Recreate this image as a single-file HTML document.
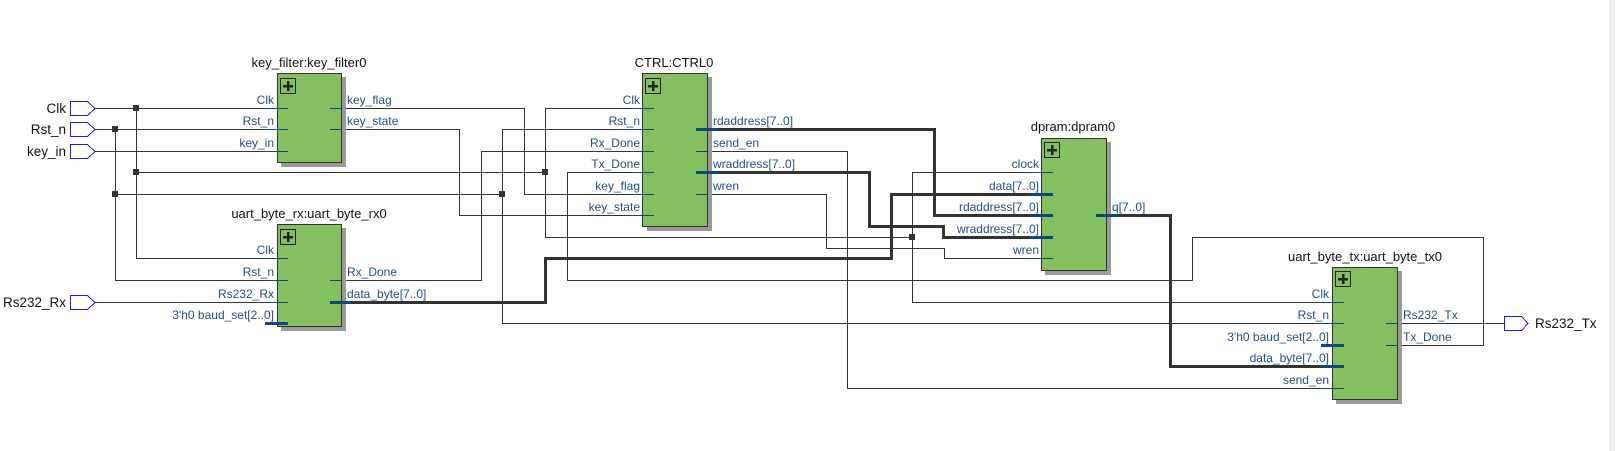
<!DOCTYPE html>
<html><head><meta charset="utf-8"><style>
html,body{margin:0;padding:0;background:#fff;}
svg{display:block;}
text{font-family:"Liberation Sans","DejaVu Sans",sans-serif;}
.t{font-size:13px;fill:#111;text-anchor:middle;}
.pl{font-size:12px;fill:#1d4f85;text-anchor:end;}
.pr{font-size:12px;fill:#1d4f85;text-anchor:start;}
.io{font-size:13.5px;fill:#111;}
.w{stroke:#333;stroke-width:1;fill:none;}
.b{stroke:#333;stroke-width:3;fill:none;}
.s{stroke:#0b4a7a;stroke-width:1;}
.sb{stroke:#0b4a7a;stroke-width:3;}
.box{fill:#85c060;stroke:#333;stroke-width:1;}
.sh{fill:#9a9a9a;}
.port{fill:#fff;stroke:#1a1aee;stroke-width:1;}
</style></head><body>
<svg width="1615" height="451" viewBox="0 0 1615 451" xmlns="http://www.w3.org/2000/svg" shape-rendering="crispEdges">
<rect x="1609" y="0" width="6" height="451" fill="#f0f0f0"/>

<g class="w">
<path d="M95 108.5H277"/>
<path d="M95 129.5H277"/>
<path d="M95 151.5H277"/>
<path d="M95 302.5H277"/>
<path d="M136.5 108V258.5H277"/>
<path d="M115.5 129V280.5H277"/>
<path d="M136 172.5H545"/>
<path d="M115 194.5H502"/>
<path d="M342 108.5H524.5V194.5H642"/>
<path d="M342 129.5H459.5V215.5H642"/>
<path d="M342 280.5H481.5V151.5H642"/>
<path d="M502.5 129V323.5H1332"/>
<path d="M502 129.5H642"/>
<path d="M545.5 108V237.5H912"/>
<path d="M545 108.5H642"/>
<path d="M912.5 172V302.5H1332"/>
<path d="M912 172.5H1041"/>
<path d="M642 172.5H567.5V280.5H1192.5V237.5H1483.5V345.5H1398"/>
<path d="M707 151.5H847.5V388.5H1332"/>
<path d="M707 194.5H826.5V248.5H944.5V258.5H1041"/>
<path d="M1398 323.5H1504"/>
</g>
<g class="b">
<path d="M342 302.5H545.5V258.5H891.5V194.5H1041"/>
<path d="M707 129.5H934.5V215.5H1041"/>
<path d="M707 172.5H869.5V226.5H943.5V237.5H1041"/>
<path d="M1107 215.5H1170.5V366.5H1332"/>
</g>
<g fill="#333">
<rect x="133" y="105" width="6" height="6"/>
<rect x="112" y="126" width="6" height="6"/>
<rect x="133" y="169" width="6" height="6"/>
<rect x="112" y="191" width="6" height="6"/>
<rect x="542" y="169" width="6" height="6"/>
<rect x="499" y="191" width="6" height="6"/>
<rect x="909" y="234" width="6" height="6"/>
</g>

<g class="port">
<path d="M70.5 101.5H87.5L95 108.5L87.5 115.5H70.5Z"/>
<path d="M70.5 122.5H87.5L95 129.5L87.5 136.5H70.5Z"/>
<path d="M70.5 144.5H87.5L95 151.5L87.5 158.5H70.5Z"/>
<path d="M70.5 295.5H87.5L95 302.5L87.5 309.5H70.5Z"/>
<path d="M1504.5 316.5H1521.5L1528 323.5L1521.5 330.5H1504.5Z"/>
</g>
<text class="io" x="66" y="113" text-anchor="end">Clk</text>
<text class="io" x="66" y="134" text-anchor="end">Rst_n</text>
<text class="io" x="66" y="156" text-anchor="end">key_in</text>
<text class="io" x="66" y="307" text-anchor="end">Rs232_Rx</text>
<text class="io" x="1535" y="328">Rs232_Tx</text>

<rect class="sh" x="281" y="77" width="65" height="90"/>
<rect class="box" x="277.5" y="73.5" width="64" height="89"/>
<text class="t" x="309" y="67">key_filter:key_filter0</text>
<rect class="sh" x="281" y="228" width="65" height="103"/>
<rect class="box" x="277.5" y="224.5" width="64" height="102"/>
<text class="t" x="309" y="218">uart_byte_rx:uart_byte_rx0</text>
<rect class="sh" x="647" y="77" width="65" height="154"/>
<rect class="box" x="642.5" y="73.5" width="65" height="153"/>
<text class="t" x="674" y="67">CTRL:CTRL0</text>
<rect class="sh" x="1045" y="142" width="66" height="133"/>
<rect class="box" x="1041.5" y="138.5" width="65" height="132"/>
<text class="t" x="1073" y="131">dpram:dpram0</text>
<rect class="sh" x="1336" y="271" width="66" height="133"/>
<rect class="box" x="1332.5" y="267.5" width="65" height="132"/>
<text class="t" x="1365" y="261">uart_byte_tx:uart_byte_tx0</text>

<g>
<g transform="translate(280,78)"><rect x="0.5" y="0.5" width="15" height="15" fill="none" stroke="#222"/><rect x="3" y="7" width="10" height="2.5" fill="#222"/><rect x="6.8" y="3" width="2.5" height="10" fill="#222"/></g>
<g transform="translate(280,229)"><rect x="0.5" y="0.5" width="15" height="15" fill="none" stroke="#222"/><rect x="3" y="7" width="10" height="2.5" fill="#222"/><rect x="6.8" y="3" width="2.5" height="10" fill="#222"/></g>
<g transform="translate(645,78)"><rect x="0.5" y="0.5" width="15" height="15" fill="none" stroke="#222"/><rect x="3" y="7" width="10" height="2.5" fill="#222"/><rect x="6.8" y="3" width="2.5" height="10" fill="#222"/></g>
<g transform="translate(1044,142)"><rect x="0.5" y="0.5" width="15" height="15" fill="none" stroke="#222"/><rect x="3" y="7" width="10" height="2.5" fill="#222"/><rect x="6.8" y="3" width="2.5" height="10" fill="#222"/></g>
<g transform="translate(1335,271)"><rect x="0.5" y="0.5" width="15" height="15" fill="none" stroke="#222"/><rect x="3" y="7" width="10" height="2.5" fill="#222"/><rect x="6.8" y="3" width="2.5" height="10" fill="#222"/></g>
</g>

<g class="s">
<path d="M265 108.5H288M265 129.5H288M265 151.5H288M330 108.5H342M330 129.5H342"/>
<path d="M265 258.5H288M265 280.5H288M265 302.5H288M330 280.5H342"/>
<path d="M631 108.5H654M631 129.5H654M631 151.5H654M631 172.5H654M631 194.5H654M631 215.5H654M696 151.5H707M696 194.5H707"/>
<path d="M1030 172.5H1053M1030 258.5H1053"/>
<path d="M1321 302.5H1344M1321 323.5H1344M1321 388.5H1344M1386 323.5H1398M1386 345.5H1398"/>
</g>
<g class="sb">
<path d="M330 302.5H352M265 323.5H288"/>
<path d="M696 129.5H718M696 172.5H718"/>
<path d="M1030 194.5H1053M1030 215.5H1053M1030 237.5H1053M1096 215.5H1118"/>
<path d="M1321 345.5H1344M1321 366.5H1344"/>
</g>

<text class="pl" x="274" y="104">Clk</text>
<text class="pl" x="274" y="125">Rst_n</text>
<text class="pl" x="274" y="147">key_in</text>
<text class="pr" x="347" y="104">key_flag</text>
<text class="pr" x="347" y="125">key_state</text>

<text class="pl" x="274" y="254">Clk</text>
<text class="pl" x="274" y="276">Rst_n</text>
<text class="pl" x="274" y="298">Rs232_Rx</text>
<text class="pl" x="274" y="319">3'h0 baud_set[2..0]</text>
<text class="pr" x="347" y="276">Rx_Done</text>
<text class="pr" x="347" y="298">data_byte[7..0]</text>

<text class="pl" x="640" y="104">Clk</text>
<text class="pl" x="640" y="125">Rst_n</text>
<text class="pl" x="640" y="147">Rx_Done</text>
<text class="pl" x="640" y="168">Tx_Done</text>
<text class="pl" x="640" y="190">key_flag</text>
<text class="pl" x="640" y="211">key_state</text>
<text class="pr" x="713" y="125">rdaddress[7..0]</text>
<text class="pr" x="713" y="147">send_en</text>
<text class="pr" x="713" y="168">wraddress[7..0]</text>
<text class="pr" x="713" y="190">wren</text>

<text class="pl" x="1039" y="168">clock</text>
<text class="pl" x="1039" y="190">data[7..0]</text>
<text class="pl" x="1039" y="211">rdaddress[7..0]</text>
<text class="pl" x="1039" y="233">wraddress[7..0]</text>
<text class="pl" x="1039" y="254">wren</text>
<text class="pr" x="1112" y="211">q[7..0]</text>

<text class="pl" x="1329" y="298">Clk</text>
<text class="pl" x="1329" y="319">Rst_n</text>
<text class="pl" x="1329" y="341">3'h0 baud_set[2..0]</text>
<text class="pl" x="1329" y="362">data_byte[7..0]</text>
<text class="pl" x="1329" y="384">send_en</text>
<text class="pr" x="1403" y="319">Rs232_Tx</text>
<text class="pr" x="1403" y="341">Tx_Done</text>
</svg>
</body></html>
